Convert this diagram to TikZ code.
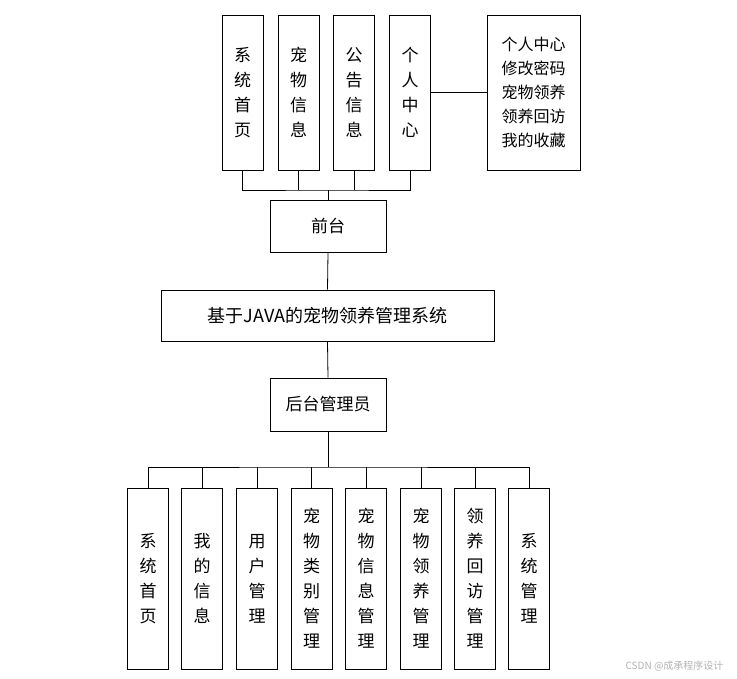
\documentclass[tikz,border=0pt]{standalone}
\usepackage{fontspec}
\newfontfamily\cjk{Noto Sans CJK SC}
\begin{document}
\begin{tikzpicture}[x=1pt,y=-1pt,
  bx/.style={draw,line width=0.8pt,inner sep=0pt,font=\cjk\fontsize{17}{25}\selectfont,align=center},
  ln/.style={line width=0.8pt}]
\useasboundingbox (0,0) rectangle (737,679);
% top
\foreach \n/\x/\t in {t1/242.5/系\\统\\首\\页, t2/298.5/宠\\物\\信\\息, t3/354/公\\告\\信\\息, t4/410/个\\人\\中\\心}{
  \node[bx,minimum width=41,minimum height=155] (\n) at (\x,92.5) {\t};
}
\node[bx,minimum width=93,minimum height=155,font=\cjk\fontsize{16}{24}\selectfont] (r) at (533.5,92.5) {个人中心\\修改密码\\宠物领养\\领养回访\\我的收藏};
\node[bx,minimum width=116,minimum height=52] (qt) at (328,226) {前台};
\node[bx,minimum width=333,minimum height=51,font=\cjk\fontsize{18}{22}\selectfont] (main) at (327.5,315.5) {基于JAVA的宠物领养管理系统};
\node[bx,minimum width=116,minimum height=53] (ht) at (328,404.5) {后台管理员};
\draw[ln] (t4.east) -- (r.west);
\coordinate (jt) at (328,190);
\draw[ln] (t1.south) |- (jt) -| (t4.south);
\draw[ln] (t2.south) -- (t2.south |- jt);
\draw[ln] (t3.south) -- (t3.south |- jt);
\draw[ln] (jt) -- (qt.north);
\draw[ln] (qt.south) -- (main.north);
\draw[ln] (main.south) -- (ht.north);
% bottom
\foreach \n/\x/\t in {b1/148/系\\统\\首\\页, b2/202/我\\的\\信\\息, b3/257/用\\户\\管\\理, b4/311.5/宠\\物\\类\\别\\管\\理, b5/366/宠\\物\\信\\息\\管\\理, b6/421/宠\\物\\领\\养\\管\\理, b7/475/领\\养\\回\\访\\管\\理, b8/529/系\\统\\管\\理}{
  \node[bx,minimum width=41,minimum height=181] (\n) at (\x,578.5) {\t};
}
\coordinate (jb) at (328,467);
\draw[ln] (ht.south) -- (jb);
\draw[ln] (b1.north) |- (jb) -| (b8.north);
\foreach \n in {b2,b3,b4,b5,b6,b7}{\draw[ln] (\n.north) -- (\n.north |- jb);}
\node[text=gray!60,font=\cjk\fontsize{10}{12}\selectfont,anchor=east] (wm) at (727,666) {CSDN @成承程序设计};
\end{tikzpicture}
\end{document}
